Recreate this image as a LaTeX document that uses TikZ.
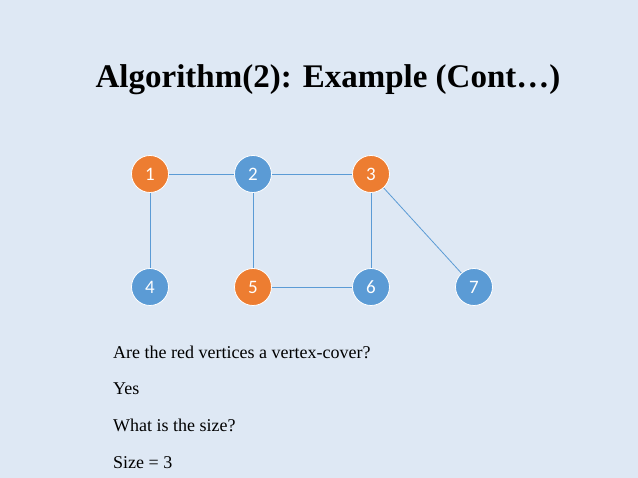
\documentclass[tikz,border=0pt]{standalone}
\usepackage{fontspec}
\setmainfont{Liberation Serif}
\newfontfamily\numfont{Carlito}
\definecolor{bg}{HTML}{DEE8F4}
\definecolor{vorange}{HTML}{ED7D31}
\definecolor{vblue}{HTML}{5B9BD5}
\definecolor{edgec}{HTML}{5B9BD5}
\begin{document}
\begin{tikzpicture}[x=1pt,y=-1pt,
  vert/.style={circle,minimum size=37pt,inner sep=0pt,draw=white,line width=0.8pt,font=\numfont\fontsize{19}{21}\selectfont,text=white},
  ov/.style={vert,fill=vorange},
  bv/.style={vert,fill=vblue},
  edge/.style={draw=edgec,line width=0.8pt},
  txt/.style={anchor=west,inner sep=0pt,font=\fontsize{18}{20}\selectfont}]
\fill[bg] (0,0) rectangle (638,478);
\useasboundingbox (0,0) rectangle (638,478);
\node[font=\bfseries\fontsize{33}{36}\selectfont] (title) at (328,80) {Algorithm(2): Example (Cont…)};
\node[ov] (n1) at (150,174) {1};
\node[bv] (n2) at (253,174) {2};
\node[ov] (n3) at (371,174) {3};
\node[bv] (n4) at (150,287) {4};
\node[ov] (n5) at (253,287) {5};
\node[bv] (n6) at (371,287) {6};
\node[bv] (n7) at (474,287) {7};
\draw[edge] (n1) -- (n2);
\draw[edge] (n2) -- (n3);
\draw[edge] (n1) -- (n4);
\draw[edge] (n2) -- (n5);
\draw[edge] (n3) -- (n6);
\draw[edge] (n3) -- (n7);
\draw[edge] (n5) -- (n6);
\node[txt] (t1) at (113,352) {Are the red vertices a vertex-cover?};
\node[txt] (t2) at (113,389) {Yes};
\node[txt] (t3) at (113,425) {What is the size?};
\node[txt] (t4) at (113,463) {Size = 3};
\end{tikzpicture}
\end{document}
